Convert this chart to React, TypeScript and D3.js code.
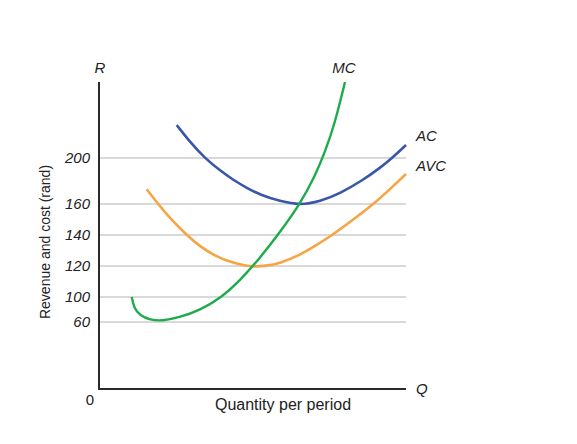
import React from "react";
import * as d3 from "d3";

const tickValues = [60, 100, 120, 140, 160, 200];
const tickLabels = ["60", "100", "120", "140", "160", "200"];

const mcQ = [1.036, 1.111, 1.307, 1.634, 2.026, 2.614, 3.268, 3.922, 4.575, 5.229, 5.882, 6.536, 7.026, 7.353, 7.68, 8.007];
const mcR = [100, 82.4, 70.4, 63.5, 61.5, 67.5, 79.2, 97.6, 110.6, 125.2, 141.9, 160, 184.3, 205.2, 230.4, 266.1];

const acQ = [2.507, 2.941, 3.431, 3.922, 4.356, 4.804, 5.229, 5.882, 6.536, 7.19, 7.843, 8.595, 9.15, 9.533, 10];
const acR = [228.7, 213.9, 199.7, 189.1, 180.9, 173.9, 168, 162.4, 159.2, 162.2, 169.1, 180.9, 191.3, 199.7, 211.3];

const avcQ = [1.526, 1.905, 2.353, 2.833, 3.268, 3.758, 4.248, 4.739, 5.065, 5.392, 5.882, 6.536, 7.026, 7.516, 8.17, 8.931, 9.477, 10];
const avcR = [172.8, 159.8, 149.4, 140, 132.6, 126.5, 122.6, 120.2, 119.6, 120, 121.7, 127.1, 132.9, 138.9, 148.4, 159.8, 173, 186.1];

const W = 577;
const H = 444;

export default function App() {
  const x = d3.scaleLinear().domain([0, 10]).range([100, 406]);
  const y = d3
    .scaleLinear()
    .domain([0, 60, 100, 120, 140, 160, 200])
    .range([389, 322, 297, 266, 235, 204, 158]);

  const line = d3
    .line<[number, number]>()
    .x((d) => x(d[0]))
    .y((d) => y(d[1]))
    .curve(d3.curveBasis);

  const zip = (a: number[], b: number[]) => a.map((v, i) => [v, b[i]] as [number, number]);

  const font = "Liberation Sans, Arial, Helvetica, sans-serif";

  return (
    <svg
      width={W}
      height={H}
      style={{ position: "absolute", left: 0, top: 0, background: "#fff" }}
      fontFamily={font}
    >
      {tickValues.map((t, i) => (
        <g key={t}>
          <line x1={x(0)} x2={x(10)} y1={y(t)} y2={y(t)} stroke="#b4b4b4" strokeWidth={1.2} />
          <text
            x={90}
            y={y(t)}
            dy="0.36em"
            textAnchor="end"
            fontSize={15}
            fontStyle="italic"
            fill="#222"
          >
            {tickLabels[i]}
          </text>
        </g>
      ))}

      <path d={line(zip(avcQ, avcR)) || ""} fill="none" stroke="#f6a444" strokeWidth={2.6} />
      <path d={line(zip(acQ, acR)) || ""} fill="none" stroke="#3857a8" strokeWidth={2.6} />
      <path d={line(zip(mcQ, mcR)) || ""} fill="none" stroke="#1eab4c" strokeWidth={2.4} />

      <line x1={x(0) - 1} x2={x(0) - 1} y1={82} y2={y(0)} stroke="#2a2a2a" strokeWidth={2} />
      <line x1={x(0) - 2} x2={x(10)} y1={y(0)} y2={y(0)} stroke="#2a2a2a" strokeWidth={2} />

      <text x={100} y={73} textAnchor="middle" fontSize={15} fontStyle="italic" fill="#222">R</text>
      <text x={344} y={73} textAnchor="middle" fontSize={15} fontStyle="italic" fill="#222">MC</text>
      <text x={416} y={140.5} fontSize={15} fontStyle="italic" fill="#222">AC</text>
      <text x={416} y={170.5} fontSize={15} fontStyle="italic" fill="#222">AVC</text>
      <text x={416} y={394} fontSize={15} fontStyle="italic" fill="#222">Q</text>
      <text x={90} y={405} textAnchor="middle" fontSize={15} fill="#222">0</text>
      <text x={283} y={409.5} textAnchor="middle" fontSize={16} fill="#222">Quantity per period</text>
      <text
        transform="translate(50,242) rotate(-90)"
        textAnchor="middle"
        fontSize={14}
        fill="#222"
      >
        Revenue and cost (rand)
      </text>
    </svg>
  );
}
